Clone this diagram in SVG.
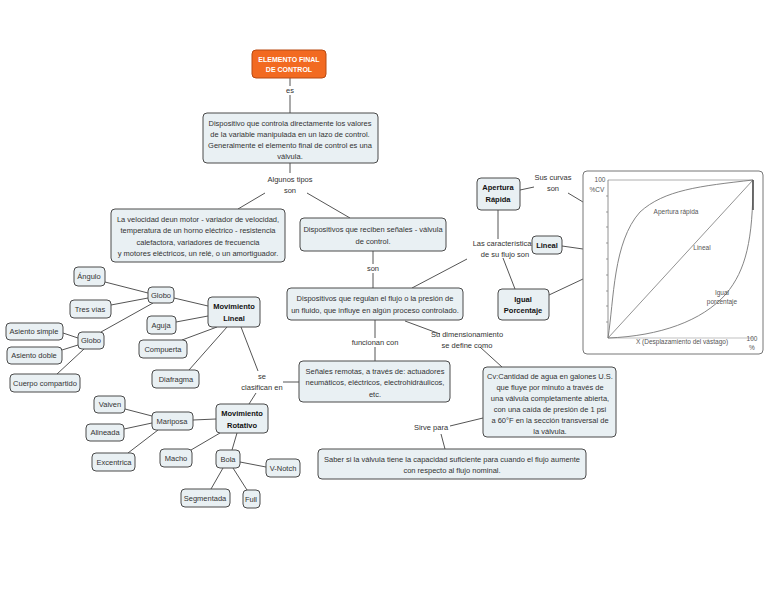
<svg xmlns="http://www.w3.org/2000/svg" width="768" height="594" viewBox="0 0 768 594">
<defs>
<style>
.n{fill:#e9f0f3;stroke:#4a4a4a;stroke-width:1}
.t{font-family:"Liberation Sans",Arial,sans-serif;font-size:7.5px;fill:#333;text-anchor:middle}
.b{font-weight:bold;fill:#111}
.c line,.c polyline{stroke:#555;stroke-width:1;fill:none}
.g{font-family:"Liberation Sans",Arial,sans-serif;font-size:6.5px;fill:#555;text-anchor:middle}
</style>
</defs>
<rect width="768" height="594" fill="#fff"/>
<g class="c" id="connectors">
<line x1="290" y1="78" x2="290" y2="86"/>
<line x1="290" y1="95" x2="290" y2="113"/>
<line x1="290" y1="163" x2="290" y2="173"/>
<line x1="265" y1="193" x2="238" y2="209"/>
<line x1="307" y1="193" x2="350" y2="218"/>
<line x1="373" y1="251" x2="373" y2="264"/>
<line x1="373" y1="273" x2="373" y2="288"/>
<line x1="375" y1="320" x2="375" y2="338"/>
<line x1="375" y1="347" x2="375" y2="361"/>
<line x1="405" y1="321" x2="440" y2="334"/>
<line x1="480" y1="347" x2="502" y2="367"/>
<line x1="412" y1="288" x2="467" y2="259"/>
<line x1="498" y1="210" x2="498" y2="239"/>
<line x1="503" y1="258" x2="515" y2="289"/>
<line x1="520" y1="190" x2="534" y2="187"/>
<line x1="568" y1="193" x2="583" y2="202"/>
<line x1="562" y1="246" x2="583" y2="249"/>
<line x1="549" y1="295" x2="583" y2="279"/>
<line x1="483" y1="418" x2="450" y2="426"/>
<line x1="441" y1="434" x2="445" y2="449"/>
<line x1="283" y1="382" x2="299" y2="382"/>
<line x1="241" y1="327" x2="258" y2="371"/>
<line x1="256" y1="393" x2="249" y2="404"/>
<line x1="208" y1="306" x2="174" y2="298"/>
<line x1="208" y1="316" x2="176" y2="322"/>
<line x1="217" y1="327" x2="182" y2="340"/>
<line x1="227" y1="327" x2="189" y2="370"/>
<line x1="148" y1="293" x2="105" y2="282"/>
<line x1="148" y1="298" x2="111" y2="305"/>
<line x1="153" y1="303" x2="101" y2="332"/>
<line x1="78" y1="338" x2="63" y2="333"/>
<line x1="78" y1="345" x2="62" y2="350"/>
<line x1="84" y1="349" x2="57" y2="374"/>
<line x1="216" y1="419" x2="193" y2="420"/>
<line x1="152" y1="416" x2="125" y2="409"/>
<line x1="152" y1="423" x2="124" y2="429"/>
<line x1="158" y1="430" x2="128" y2="453"/>
<line x1="220" y1="433" x2="191" y2="450"/>
<line x1="237" y1="433" x2="232" y2="450"/>
<line x1="240" y1="462" x2="266" y2="467"/>
<line x1="223" y1="468" x2="211" y2="489"/>
<line x1="233" y1="468" x2="247" y2="490"/>
</g>
<g id="elemento">
<rect x="252" y="50" width="74" height="28" rx="4" fill="#f26a21" stroke="#b84a12"/>
<text class="t b" x="289" y="62" style="fill:#fff;font-size:7px">ELEMENTO FINAL</text>
<text class="t b" x="289" y="72" style="fill:#fff;font-size:7px">DE CONTROL</text>
</g>
<g id="lbl-es"><text class="t" x="290" y="93">es</text></g>
<g id="dispositivo">
<rect class="n" x="203" y="113" width="175" height="50" rx="4"/>
<text class="t" x="290" y="126">Dispositivo que controla directamente los valores</text>
<text class="t" x="290" y="137">de la variable manipulada en un lazo de control.</text>
<text class="t" x="290" y="148">Generalmente el elemento final de control es una</text>
<text class="t" x="290" y="159">válvula.</text>
</g>
<g id="lbl-algunos"><text class="t" x="290" y="182">Algunos tipos</text><text class="t" x="290" y="193">son</text></g>
<g id="velocidad">
<rect class="n" x="111" y="209" width="174" height="53" rx="4"/>
<text class="t" x="198" y="222">La velocidad deun motor -  variador de velocidad,</text>
<text class="t" x="198" y="233">temperatura de un horno eléctrico -  resistencia</text>
<text class="t" x="198" y="245">calefactora, variadores  de frecuencia</text>
<text class="t" x="198" y="256">y motores eléctricos,  un relé, o un amortiguador.</text>
</g>
<g id="reciben">
<rect class="n" x="300" y="218" width="146" height="33" rx="4"/>
<text class="t" x="373" y="232">Dispositivos que reciben señales - válvula</text>
<text class="t" x="373" y="244">de control.</text>
</g>
<g id="lbl-son"><text class="t" x="373" y="271">son</text></g>
<g id="regulan">
<rect class="n" x="287" y="288" width="176" height="32" rx="4"/>
<text class="t" x="375" y="301">Dispositivos que regulan el flujo o la presión de</text>
<text class="t" x="375" y="313">un fluido, que influye en algún proceso controlado.</text>
</g>
<g id="lbl-funcionan"><text class="t" x="375" y="345">funcionan con</text></g>
<g id="lbl-dimension"><text class="t" x="467" y="337">Su dimensionamiento</text><text class="t" x="467" y="348">se define como</text></g>
<g id="senales">
<rect class="n" x="299" y="361" width="151" height="41" rx="4"/>
<text class="t" x="375" y="374">Señales remotas, a través de: actuadores</text>
<text class="t" x="375" y="385">neumáticos, eléctricos, electrohidráulicos,</text>
<text class="t" x="375" y="397">etc.</text>
</g>
<g id="cv">
<rect class="n" x="483" y="367" width="133" height="70" rx="4"/>
<text class="t" x="550" y="379">Cv:Cantidad de agua en galones U.S.</text>
<text class="t" x="550" y="390">que fluye por minuto a través de</text>
<text class="t" x="550" y="401">una válvula completamente abierta,</text>
<text class="t" x="550" y="412">con una caída de presión de 1 psi</text>
<text class="t" x="550" y="423">a 60°F en la sección transversal de</text>
<text class="t" x="550" y="434">la válvula.</text>
</g>
<g id="lbl-sirve"><text class="t" x="431" y="430">Sirve para</text></g>
<g id="saber">
<rect class="n" x="318" y="449" width="268" height="30" rx="4"/>
<text class="t" x="452" y="462">Saber si la válvula tiene la  capacidad suficiente para cuando el flujo aumente</text>
<text class="t" x="452" y="473">con respecto al flujo nominal.</text>
</g>
<g id="apertura">
<rect class="n" x="477" y="178" width="43" height="32" rx="4"/>
<text class="t b" x="498" y="190">Apertura</text>
<text class="t b" x="498" y="202">Rápida</text>
</g>
<g id="lbl-curvas"><text class="t" x="553" y="180">Sus curvas</text><text class="t" x="553" y="191">son</text></g>
<g id="lbl-caract"><text class="t" x="505" y="246">Las características.</text><text class="t" x="505" y="257">de su flujo son</text></g>
<g id="lineal">
<rect class="n" x="532" y="236" width="30" height="18" rx="4"/>
<text class="t b" x="547" y="248">Lineal</text>
</g>
<g id="igual">
<rect class="n" x="498" y="289" width="51" height="31" rx="4"/>
<text class="t b" x="523" y="302">Igual</text>
<text class="t b" x="523" y="313">Porcentaje</text>
</g>
<g id="chart">
<rect x="583" y="171" width="180" height="183" rx="4" fill="#fff" stroke="#777"/>
<line x1="608" y1="180" x2="753" y2="180" stroke="#999" stroke-width="0.8"/>
<line x1="608" y1="180" x2="608" y2="338" stroke="#777" stroke-width="0.8"/>
<line x1="608" y1="338" x2="753" y2="338" stroke="#999" stroke-width="0.6"/>
<g stroke="#777" stroke-width="0.7">
<line x1="606" y1="196" x2="608" y2="196"/><line x1="606" y1="212" x2="608" y2="212"/><line x1="606" y1="227" x2="608" y2="227"/><line x1="606" y1="243" x2="608" y2="243"/><line x1="606" y1="259" x2="608" y2="259"/><line x1="606" y1="275" x2="608" y2="275"/><line x1="606" y1="291" x2="608" y2="291"/><line x1="606" y1="306" x2="608" y2="306"/><line x1="606" y1="322" x2="608" y2="322"/>
</g>
<line x1="608" y1="338" x2="753" y2="180" stroke="#777" stroke-width="0.8"/>
<path d="M608,338 C614,300 613,242 640,212 C664,190 700,186 753,180" fill="none" stroke="#777" stroke-width="0.9"/>
<path d="M608,338 C660,336 702,321 726,294 C746,270 753,240 753,180" fill="none" stroke="#777" stroke-width="0.9"/>
<line x1="753" y1="180" x2="753" y2="210" stroke="#555" stroke-width="1.6"/>
<text class="g" x="600" y="182">100</text>
<text class="g" x="597" y="192">%CV</text>
<text class="g" x="676" y="214">Apertura rápida</text>
<text class="g" x="702" y="250">Lineal</text>
<text class="g" x="722" y="295">Igual</text>
<text class="g" x="722" y="304">porcentaje</text>
<text class="g" x="682" y="344">X (Desplazamiento del vástago)</text>
<text class="g" x="752" y="341">100</text>
<text class="g" x="752" y="350">%</text>
</g>
<g id="mov-lineal">
<rect class="n" x="208" y="297" width="52" height="30" rx="4"/>
<text class="t b" x="234" y="309">Movimiento</text>
<text class="t b" x="234" y="321">Lineal</text>
</g>
<g id="globo1"><rect class="n" x="148" y="287" width="26" height="16" rx="4"/><text class="t" x="161" y="298">Globo</text></g>
<g id="angulo"><rect class="n" x="74" y="267" width="31" height="19" rx="4"/><text class="t" x="89" y="279">Ángulo</text></g>
<g id="tresvias"><rect class="n" x="70" y="300" width="41" height="18" rx="4"/><text class="t" x="90" y="312">Tres vías</text></g>
<g id="aguja"><rect class="n" x="147" y="316" width="29" height="18" rx="4"/><text class="t" x="161" y="328">Aguja</text></g>
<g id="compuerta"><rect class="n" x="139" y="340" width="48" height="18" rx="4"/><text class="t" x="163" y="352">Compuerta</text></g>
<g id="diafragma"><rect class="n" x="152" y="370" width="47" height="18" rx="4"/><text class="t" x="176" y="382">Diafragma</text></g>
<g id="globo2"><rect class="n" x="78" y="332" width="26" height="17" rx="4"/><text class="t" x="91" y="343">Globo</text></g>
<g id="asiento-simple"><rect class="n" x="6" y="323" width="57" height="17" rx="4"/><text class="t" x="34" y="334">Asiento simple</text></g>
<g id="asiento-doble"><rect class="n" x="7" y="347" width="55" height="17" rx="4"/><text class="t" x="34" y="358">Asiento doble</text></g>
<g id="cuerpo"><rect class="n" x="10" y="374" width="70" height="18" rx="4"/><text class="t" x="45" y="386">Cuerpo compartido</text></g>
<g id="lbl-clasifican"><text class="t" x="262" y="379">se</text><text class="t" x="262" y="390">clasifican en</text></g>
<g id="mov-rotativo">
<rect class="n" x="216" y="404" width="52" height="29" rx="4"/>
<text class="t b" x="242" y="416">Movimiento</text>
<text class="t b" x="242" y="428">Rotativo</text>
</g>
<g id="mariposa"><rect class="n" x="152" y="412" width="41" height="18" rx="4"/><text class="t" x="172" y="424">Mariposa</text></g>
<g id="vaiven"><rect class="n" x="94" y="396" width="31" height="17" rx="4"/><text class="t" x="110" y="407">Vaiven</text></g>
<g id="alineada"><rect class="n" x="86" y="424" width="38" height="17" rx="4"/><text class="t" x="105" y="435">Alineada</text></g>
<g id="excentrica"><rect class="n" x="92" y="453" width="43" height="18" rx="4"/><text class="t" x="114" y="465">Excentrica</text></g>
<g id="macho"><rect class="n" x="160" y="449" width="32" height="18" rx="4"/><text class="t" x="176" y="461">Macho</text></g>
<g id="bola"><rect class="n" x="216" y="450" width="24" height="18" rx="4"/><text class="t" x="228" y="462">Bola</text></g>
<g id="vnotch"><rect class="n" x="266" y="459" width="34" height="18" rx="4"/><text class="t" x="283" y="471">V-Notch</text></g>
<g id="segmentada"><rect class="n" x="181" y="489" width="49" height="18" rx="4"/><text class="t" x="205" y="501">Segmentada</text></g>
<g id="full"><rect class="n" x="243" y="490" width="17" height="18" rx="4"/><text class="t" x="251" y="502">Full</text></g>
</svg>
